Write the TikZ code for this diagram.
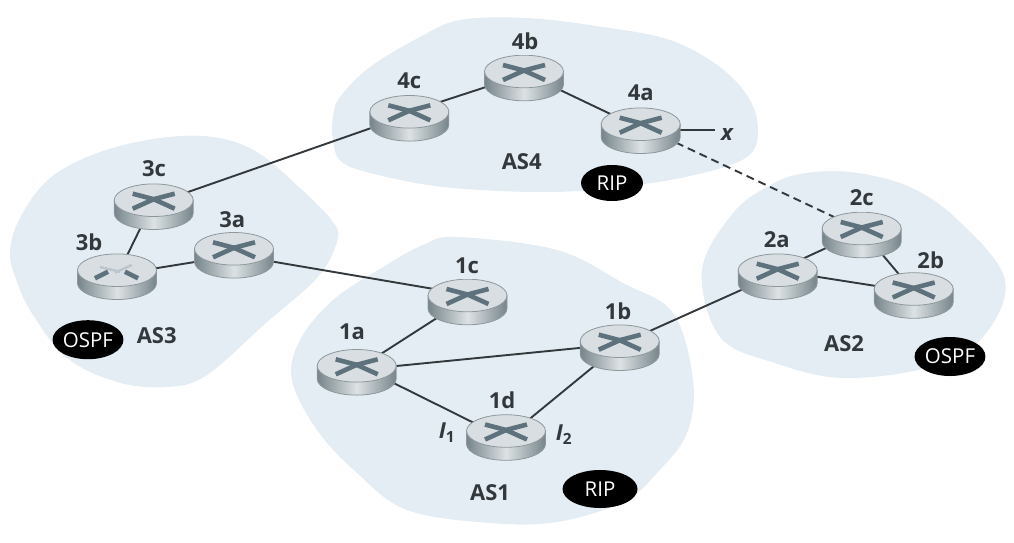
\documentclass[tikz,border=0pt]{standalone}
\usepackage{fontspec}
\setmainfont{Open Sans}
\usetikzlibrary{backgrounds,shapes.geometric}
\definecolor{blob}{HTML}{E4EDF3}
\definecolor{ink}{HTML}{33383C}
\definecolor{xcol}{HTML}{5E727D}
\definecolor{xfade}{HTML}{BCC5CA}
\definecolor{capcol}{HTML}{D9DEE2}
\definecolor{rim}{HTML}{8D989D}
\definecolor{sidedark}{HTML}{75848A}
\definecolor{sidelight}{HTML}{DDE2E4}
\newcommand{\routerbody}{%
  \path[left color=sidedark,right color=sidedark,middle color=sidelight,draw=rim,line width=.8pt]
    (-39.5,-6.5) -- (-39.5,6.5) arc[start angle=180,end angle=0,x radius=39.5,y radius=16.3] -- (39.5,-6.5) -- cycle;
  \path[fill=capcol,draw=rim,line width=.8pt] (0,-6.5) ellipse[x radius=39.5,y radius=16.3];
}
\newcommand{\lnk}[5][link]{\draw[#1] ([yshift=#3pt]#2.center) -- ([yshift=#5pt]#4.center);}
\tikzset{
  blobshape/.style={fill=blob,draw=none},
  link/.style={draw=ink,line width=1.9pt},
  dashlink/.style={link,dash pattern=on 8pt off 5pt},
  lab/.style={text=ink,font=\fontsize{22}{22}\selectfont\bfseries,inner sep=0pt},
  tag/.style={ellipse,fill=black,text=white,inner sep=0pt,minimum width=65pt,minimum height=38pt,font=\fontsize{20.5}{20.5}\selectfont},
  iface/.style={text=ink,font=\fontsize{22}{22}\selectfont\bfseries,inner sep=0pt},
  routerbox/.style={rectangle,draw=none,inner sep=0pt,minimum width=80pt,minimum height=46pt},
  router/.style={routerbox,path picture={
    \routerbody
    \draw[xcol,line width=4.6pt,line join=round] (-21,-13) -- (0,-7.5) -- (21,2);
    \draw[xcol,line width=4.6pt,line join=round] (21,-13) -- (0,-7.5) -- (-21,2);
  }},
  fadedrouter/.style={routerbox,path picture={
    \routerbody
    \draw[xfade,line width=2.4pt] (-17,-9.7) -- (3,-5);
    \draw[xfade,line width=2.4pt] (14.7,-11.7) -- (-2,-4);
    \draw[xcol,line width=4.6pt] (-22,1.6) -- (-9,-5);
    \draw[xcol,line width=4.6pt] (8,-5) -- (21,1.6);
  }},
}
\begin{document}
\begin{tikzpicture}[x=1pt,y=-1pt]
\useasboundingbox (0,0) rectangle (1014,542);
% routers
\node[router] (r4c) at (409.3,118.3) {};
\node[router] (r4b) at (524,78) {};
\node[router] (r4a) at (640.7,130.7) {};
\node[router] (r3c) at (153.7,206.7) {};
\node[router] (r3a) at (234,255.3) {};
\node[fadedrouter] (r3b) at (117,276.7) {};
\node[router] (r1c) at (467.5,302) {};
\node[router] (r1a) at (356.7,372.3) {};
\node[router] (r1b) at (619.7,347.7) {};
\node[router] (r1d) at (506,437.5) {};
\node[router] (r2c) at (861.7,235) {};
\node[router] (r2a) at (777.7,276.7) {};
\node[router] (r2b) at (913.7,295.5) {};
\coordinate (xend) at (715,130);
\begin{pgfonlayer}{background}
\fill[blobshape] plot[smooth cycle,tension=.6] coordinates {(333,117) (340,97) (370,67) (420,37) (460,20) (527,18) (603,27) (670,40) (720,67) (750,100) (758,133) (747,157) (703,173) (637,185) (553,192) (453,188) (387,177) (343,163) (333,140)};
\fill[blobshape] plot[smooth cycle,tension=.6] coordinates {(10,252) (20,218) (50,178) (100,152) (160,138) (213,137) (257,152) (300,188) (333,222) (337,242) (317,278) (267,322) (207,375) (167,387) (117,382) (67,358) (33,315) (17,282)};
\fill[blobshape] plot[smooth cycle,tension=.6] coordinates {(292,380) (300,340) (333,300) (383,267) (423,245) (457,237) (557,250) (623,283) (673,313) (693,380) (687,433) (657,473) (623,502) (557,522) (490,523) (407,510) (357,473) (317,430)};
\fill[blobshape] plot[smooth cycle,tension=.6] coordinates {(702,270) (733,213) (767,187) (800,174) (850,172) (910,187) (960,222) (1005,280) (983,337) (930,367) (843,378) (775,363) (720,337)};
\lnk{r4c}{6.3}{r4b}{3.4}
\lnk{r4b}{5.2}{r4a}{2.3}
\draw[link] ([yshift=.7pt]r4a.center) -- (xend);
\lnk[dashlink]{r4a}{4.7}{r2c}{5}
\lnk{r3c}{2.7}{r4c}{3.6}
\lnk{r3c}{5.7}{r3b}{.7}
\lnk{r3b}{2.2}{r3a}{-.4}
\lnk{r3a}{.3}{r1c}{7.3}
\lnk{r1a}{2.8}{r1c}{3.7}
\lnk{r1a}{2.4}{r1b}{3.7}
\lnk{r1a}{7.6}{r1d}{-1.3}
\lnk{r1d}{-.8}{r1b}{2.7}
\lnk{r1b}{3.2}{r2a}{3.1}
\lnk{r2a}{6.4}{r2c}{3.4}
\lnk{r2a}{6.1}{r2b}{3.6}
\lnk{r2c}{5}{r2b}{3.7}
\end{pgfonlayer}
% labels
\node[lab] (l4c) at (409.3,81) {4c};
\node[lab] (l4b) at (525,41.7) {4b};
\node[lab] (l4a) at (640.7,93) {4a};
\node[lab] (l3c) at (154,169) {3c};
\node[lab] (l3a) at (232.3,220) {3a};
\node[lab] (l3b) at (89,242.3) {3b};
\node[lab] (l1c) at (467,266) {1c};
\node[lab] (l1a) at (352,332) {1a};
\node[lab] (l1b) at (618,311) {1b};
\node[lab] (l1d) at (502,400.7) {1d};
\node[lab] (l2c) at (861.7,198) {2c};
\node[lab] (l2a) at (776.7,240) {2a};
\node[lab] (l2b) at (930.7,260) {2b};
\node[lab] (as4) at (521.7,161.7) {AS4};
\node[lab] (as3) at (156.7,336) {AS3};
\node[lab] (as1) at (490,493) {AS1};
\node[lab] (as2) at (844,344) {AS2};
\node[iface,font=\fontsize{22}{22}\selectfont\bfseries\itshape] (xlab) at (727,134) {x};
\node[iface] (i1) at (447,433) {\textit{I}\textsubscript{\upshape 1}};
\node[iface] (i2) at (564,435) {\textit{I}\textsubscript{\upshape 2}};
\node[tag,minimum width=62pt,minimum height=36pt] (t4) at (612,183) {RIP};
\node[tag,minimum width=66pt,minimum height=39pt] (t3) at (88,339.7) {OSPF};
\node[tag,minimum width=75pt,minimum height=38pt] (t1) at (600,489) {RIP};
\node[tag,minimum width=64pt,minimum height=39pt] (t2) at (950,356.5) {OSPF};
\end{tikzpicture}
\end{document}
